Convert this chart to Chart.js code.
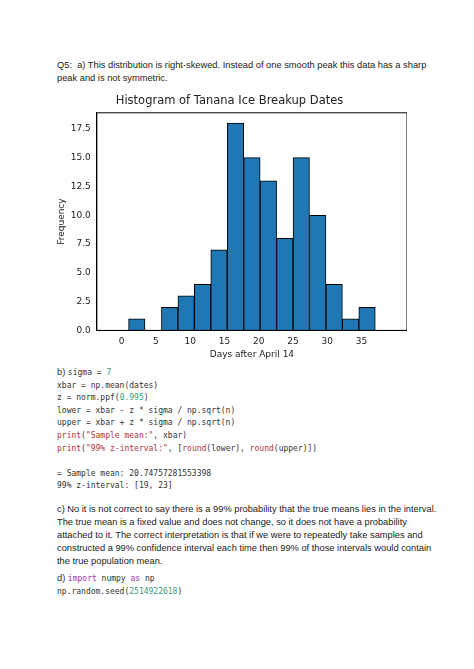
<!DOCTYPE html>
<html>
<head>
<meta charset="utf-8">
<script src="https://cdn.jsdelivr.net/npm/chart.js@4/dist/chart.umd.min.js"></script>
<style>
  body { margin:0; background:#fff; width:474px; height:669px; position:relative; overflow:hidden; }
  .txt { position:absolute; left:57px; font-family:"Liberation Sans", Arial, sans-serif; font-size:9.3px; color:#222; line-height:13px; }
  .code { position:absolute; left:57px; font-family:"DejaVu Sans Mono", monospace; font-size:8px; color:#333; line-height:12.6px; white-space:pre; }
  .n { color:#3a9a7a; } .s { color:#b5323c; } .k { color:#9b36b0; } .f { color:#b5323c; }
  #wrap { position:absolute; left:52px; top:92px; width:355px; height:272px; }
</style>
</head>
<body>
<div class="txt" style="top:59px;">Q5: &nbsp;a) This distribution is right-skewed. Instead of one smooth peak this data has a sharp<br>peak and is not symmetric.</div>

<div id="wrap"><canvas id="hist"></canvas></div>

<div class="code" style="top:366px;"><span style="font-family:'Liberation Sans';font-size:9.3px">b) </span>sigma = <span class="n">7</span>
xbar = np.mean(dates)
z = norm.ppf(<span class="n">0.995</span>)
lower = xbar - z * sigma / np.sqrt(n)
upper = xbar + z * sigma / np.sqrt(n)
<span class="f">print</span>(<span class="s">"Sample mean:"</span>, xbar)
<span class="f">print</span>(<span class="s">"99% z-interval:"</span>, [<span class="f">round</span>(lower), <span class="f">round</span>(upper)])

= Sample mean: 20.74757281553398
99% z-interval: [19, 23]</div>

<div class="txt" style="top:503px;">c) No it is not correct to say there is a 99% probability that the true means lies in the interval.<br>The true mean is a fixed value and does not change, so it does not have a probability<br>attached to it. The correct interpretation is that if we were to repeatedly take samples and<br>constructed a 99% confidence interval each time then 99% of those intervals would contain<br>the true population mean.</div>

<div class="code" style="top:572px;"><span style="font-family:'Liberation Sans';font-size:9.3px">d) </span><span class="k">import</span> numpy <span class="k">as</span> np
np.random.seed(<span class="n">2514922618</span>)</div>

<script>
// histogram bins (days after April 14), 15 bins from 1 to 37
const binStart = [1, 3.4, 5.8, 8.2, 10.6, 13, 15.4, 17.8, 20.2, 22.6, 25, 27.4, 29.8, 32.2, 34.6];
const binWidth = 2.4;
const counts = [1, 0, 2, 3, 4, 7, 18, 15, 13, 8, 15, 10, 4, 1, 2];
const xTicks = [0, 5, 10, 15, 20, 25, 30, 35];
const yTicks = [0, 2.5, 5, 7.5, 10, 12.5, 15, 17.5];

const pts = binStart.map((s, i) => ({x: s + binWidth / 2, y: counts[i]}));
const font = {family: 'DejaVu Sans', size: 9};

new Chart(document.getElementById('hist'), {
  type: 'bar',
  data: { datasets: [{
    data: pts,
    backgroundColor: '#1f77b4',
    borderColor: '#000',
    borderWidth: 1,
    barPercentage: 1,
    categoryPercentage: 1,
    grouped: false
  }]},
  options: {
    animation: false,
    responsive: true,
    maintainAspectRatio: false,
    plugins: {
      legend: {display: false},
      tooltip: {enabled: false},
      title: {display: true, text: 'Histogram of Tanana Ice Breakup Dates', color: '#222',
              font: {family: 'DejaVu Sans', size: 11.5, weight: 'normal'}, padding: {top: 2, bottom: 5}}
    },
    scales: {
      x: {
        type: 'linear', min: -0.8, max: 38.8,
        afterBuildTicks: ax => { ax.ticks = xTicks.map(v => ({value: v})); },
        grid: {display: false, drawTicks: true, tickLength: 4, tickColor: '#000'},
        border: {color: '#000'},
        ticks: {color: '#222', font: font, padding: 2},
        title: {display: true, text: 'Days after April 14', color: '#222', font: font, padding: {top: 0}}
      },
      y: {
        min: 0, max: 18.9,
        afterBuildTicks: ax => { ax.ticks = yTicks.map(v => ({value: v})); },
        grid: {display: false, drawTicks: true, tickLength: 4, tickColor: '#000'},
        border: {color: '#000'},
        ticks: {color: '#222', font: font, padding: 2, callback: v => v.toFixed(1)},
        title: {display: true, text: 'Frequency', color: '#222', font: font, padding: {bottom: 2}}
      }
    }
  },
  plugins: [{
    id: 'frame',
    afterDraw(c) {
      const a = c.chartArea, g = c.ctx;
      g.save(); g.strokeStyle = '#000'; g.lineWidth = 1;
      g.strokeRect(a.left, a.top, a.right - a.left, a.bottom - a.top);
      g.restore();
    }
  }]
});
</script>
</body>
</html>
